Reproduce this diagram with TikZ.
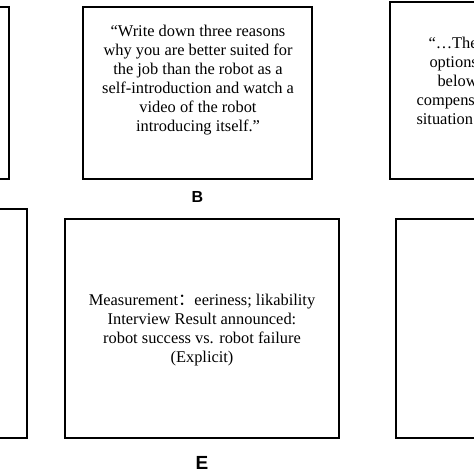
\documentclass[tikz,border=0pt]{standalone}
\usepackage{fontspec}
\setmainfont{Liberation Serif}
\newfontfamily\labelfont{Liberation Sans}
\newfontfamily\cjk{Noto Sans CJK SC}
\usetikzlibrary{positioning}

\begin{document}
\begin{tikzpicture}
    [x=1pt,y=-1pt,
    % Styles
    panel/.style={draw,line width=1.4pt,inner sep=0pt},
    panel text/.style={align=center,font=\fontsize{16.4}{19}\selectfont},
    panel label/.style={font=\labelfont\bfseries\fontsize{16}{19}\selectfont}]

    % Page
    \useasboundingbox (0,0) rectangle (474,474);
    \clip (0,0) rectangle (474,474);

    % Top row
    \node[panel,minimum width=230pt,minimum height=172pt] (boxA) at (-106,93) {};
    \node[panel,minimum width=229pt,minimum height=172pt] (boxB) at (197.5,93) {};
    \node[panel text] (textB) at (198,80.5) {``Write down three reasons\\ why you are better suited for\\ the job than the robot as a\\ self-introduction and watch a\\ video of the robot\\ introducing itself.''};
    \node[panel label,below=8pt of boxB.south] (labelB) {B};
    \node[panel,minimum width=229pt,minimum height=177pt] (boxC) at (504.5,90.5) {};
    % Cut off at the page edge
    \node[panel text,anchor=base west] (textC1) at (425,48) {``\dots The};
    \node[panel text,anchor=base west] (textC2) at (426,67) {options};
    \node[panel text,anchor=base west] (textC3) at (434,86) {below};
    \node[panel text,anchor=base west] (textC4) at (413,105) {compens};
    \node[panel text,anchor=base west] (textC5) at (413,124) {situation};

    % Bottom row
    \node[panel,minimum width=230pt,minimum height=229pt] (boxD) at (-88,323.5) {};
    \node[panel,minimum width=274pt,minimum height=219pt] (boxE) at (202,328.5) {};
    \node[panel text] (textE) at (202,330) {Measurement{\cjk ：}eeriness; likability\\ Interview Result announced:\\ robot success vs. robot failure\\ (Explicit)};
    \node[panel label,font=\labelfont\bfseries\fontsize{19}{22}\selectfont,below=14pt of boxE.south] (labelE) {E};
    \node[panel,minimum width=230pt,minimum height=219pt] (boxF) at (511,328.5) {};
\end{tikzpicture}
\end{document}
